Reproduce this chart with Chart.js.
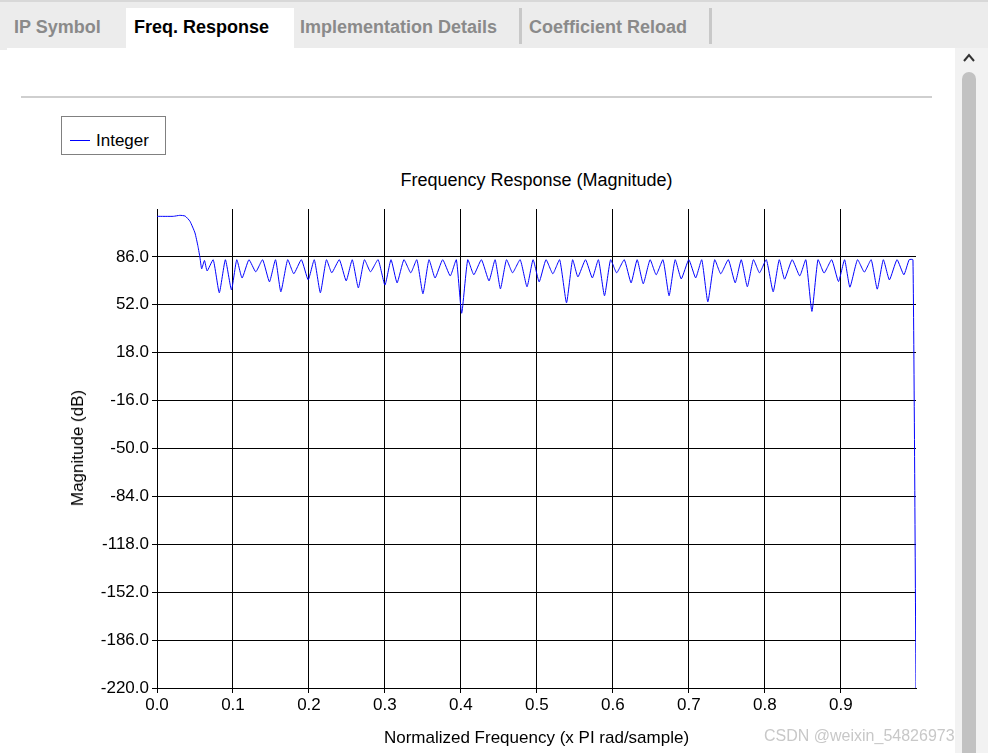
<!DOCTYPE html>
<html><head><meta charset="utf-8">
<script src="https://cdn.jsdelivr.net/npm/chart.js@4/dist/chart.umd.min.js"></script>
<style>
body{margin:0;width:988px;height:753px;background:#fff;font-family:"Liberation Sans",Arial,sans-serif;position:relative;overflow:hidden}
#tabs{position:absolute;left:0;top:0;width:988px;height:48px;background:#ececec;border-top:2px solid #d8d8d8}
.tab{position:absolute;top:15px;font-size:18px;font-weight:bold;color:#8a8a8a}
#act{position:absolute;left:126px;top:6px;width:168px;height:44px;background:#fff}
.sep{position:absolute;top:6px;width:3px;height:36px;background:#c8c8c8}
#panel{position:absolute;left:7px;top:48px;width:950px;height:705px;background:#fff}
#hline{position:absolute;left:21px;top:96px;width:911px;height:2px;background:#cfcfcf}
#sb{position:absolute;left:962px;top:72px;width:14px;height:681px;background:#c2c2c2;border-radius:7px 7px 0 0}
#sbt{position:absolute;left:955px;top:48px;width:33px;height:705px;background:#f2f2f2}
#arrow{position:absolute;left:961px;top:50px;width:16px;height:16px}
#legend{position:absolute;left:61px;top:116px;width:103px;height:37px;border:1px solid #808080;background:#fff}
#legend .ln{position:absolute;left:8px;top:23px;width:20px;height:1px;background:#0000ff}
#legend span{position:absolute;left:34px;top:14px;font-size:17px;color:#000}
#title{position:absolute;left:157px;width:759px;top:170px;text-align:center;font-size:18px;color:#000}
#ytitle{position:absolute;left:78px;top:448px;transform:translate(-50%,-50%) rotate(-90deg);font-size:17px;color:#000;white-space:nowrap}
canvas{position:absolute;left:0;top:160px}
#wm{position:absolute;left:764px;top:727px;font-size:16px;color:#c8c8c8}
</style></head><body>
<div id="tabs">
<div id="act"></div>
<div class="tab" style="left:14px">IP Symbol</div>
<div class="tab" style="left:134px;color:#000">Freq. Response</div>
<div class="tab" style="left:300px">Implementation Details</div>
<div class="sep" style="left:519px"></div>
<div class="tab" style="left:529px">Coefficient Reload</div>
<div class="sep" style="left:709px"></div>
</div>
<div id="panel"></div>
<div id="sbt"></div><div id="sb"></div>
<svg id="arrow" viewBox="0 0 16 16"><polyline points="3,11 8,5 13,11" fill="none" stroke="#333" stroke-width="2"/></svg>
<div id="hline"></div>
<div id="legend"><div class="ln"></div><span>Integer</span></div>
<div id="title">Frequency Response (Magnitude)</div>
<canvas id="c" width="960" height="593"></canvas>
<div id="ytitle">Magnitude (dB)</div>
<div id="wm">CSDN @weixin_54826973</div>
<script>
const seriesName = "Integer";
const freq = [0,0.0215,0.030,0.037,0.0434,0.050,0.054,0.0566,
0.0588,0.0625,0.066,0.074,0.082,0.090,0.098,0.105,0.112,0.121,0.130,0.139,0.148,0.156,0.163,0.172,0.180,0.190,0.199,0.207,0.215,0.223,0.230,0.240,0.249,0.257,0.265,0.273,0.281,0.291,0.300,0.308,0.316,0.325,0.334,0.342,0.350,0.358,0.366,0.376,0.386,0.394,0.401,
0.409,0.417,0.427,0.437,0.445,0.452,0.460,0.468,0.478,0.487,0.495,0.503,0.512,0.521,0.530,0.539,0.547,0.554,0.564,0.573,0.581,0.589,0.597,0.605,0.615,0.624,0.632,0.640,0.649,0.657,0.666,0.674,0.682,0.690,0.700,0.709,0.717,0.725,0.734,0.742,0.752,0.761,0.769,0.777,0.785,0.793,0.802,0.811,0.819,0.826,0.836,0.846,0.854,0.862,0.870,0.878,0.888,0.897,0.905,0.912,0.922,0.931,0.940,0.948,0.956,0.964,0.974,0.983,0.990,0.995,0.999];
const mag = [114.8,114.8,115.5,115.0,111.3,103.0,93.3,85.3,
77.5,83.5,76.0,84.0,60.5,84.0,62.6,84.0,71.0,84.0,75.4,84.0,68.3,84.0,61.2,84.0,74.0,84.0,69.7,84.0,60.5,84.0,74.7,84.0,69.0,84.0,64.0,84.0,75.4,84.0,66.0,84.0,67.6,84.0,74.7,84.0,59.8,84.0,71.0,84.0,72.5,84.0,46.0,
84.0,73.3,84.0,69.0,84.0,63.3,84.0,74.7,84.0,64.8,84.0,68.3,84.0,74.0,84.0,53.4,84.0,71.8,84.0,71.1,84.0,58.4,84.0,74.7,84.0,67.6,84.0,66.9,84.0,73.3,84.0,58.4,84.0,70.4,84.0,71.1,84.0,54.1,84.0,74.0,84.0,67.6,84.0,64.8,84.0,74.7,84.0,61.2,84.0,70.2,84.0,72.5,84.0,47.3,84.0,74.5,84.0,68.5,84.0,64.5,84.0,75.2,84.0,63.1,84.0,69.7,84.0,73.3,84.0,84.0,-220];
const xTicks = [0,0.1,0.2,0.3,0.4,0.5,0.6,0.7,0.8,0.9];
const yTicks = [-220,-186,-152,-118,-84,-50,-16,18,52,86];
const pts = freq.map((f,i)=>({x:f,y:mag[i]}));
const font = {family:"'Liberation Sans', Arial, sans-serif", size:17};
new Chart(document.getElementById('c'),{
 type:'line',
 data:{datasets:[{label:seriesName,data:pts,borderColor:'#0000ff',borderWidth:1,pointRadius:0,tension:0.15,fill:false}]},
 options:{responsive:false,animation:false,
  layout:{padding:{top:49,right:44,left:0,bottom:0}},
  plugins:{legend:{display:false},tooltip:{enabled:false}},
  scales:{
   x:{type:'linear',min:0,max:0.999,
    afterBuildTicks:s=>{s.ticks=xTicks.map(v=>({value:v}));},
    afterFit:s=>{s.height=65;},
    ticks:{color:'#000',font,padding:2,callback:v=>v.toFixed(1),maxRotation:0,autoSkip:false},
    grid:{color:'#000',tickLength:5,drawOnChartArea:true},
    border:{color:'#000'},
    title:{display:true,text:'Normalized Frequency (x PI rad/sample)',color:'#000',font,padding:{top:7}}},
   y:{min:-220,max:120,
    afterBuildTicks:s=>{s.ticks=yTicks.map(v=>({value:v}));},
    afterFit:s=>{s.width=157;},
    ticks:{color:'#000',font,padding:3,callback:v=>v.toFixed(1),autoSkip:false},
    grid:{color:'#000',tickLength:5},
    border:{color:'#000'},
    title:{display:false}}
  }}
});
</script>
</body></html>
